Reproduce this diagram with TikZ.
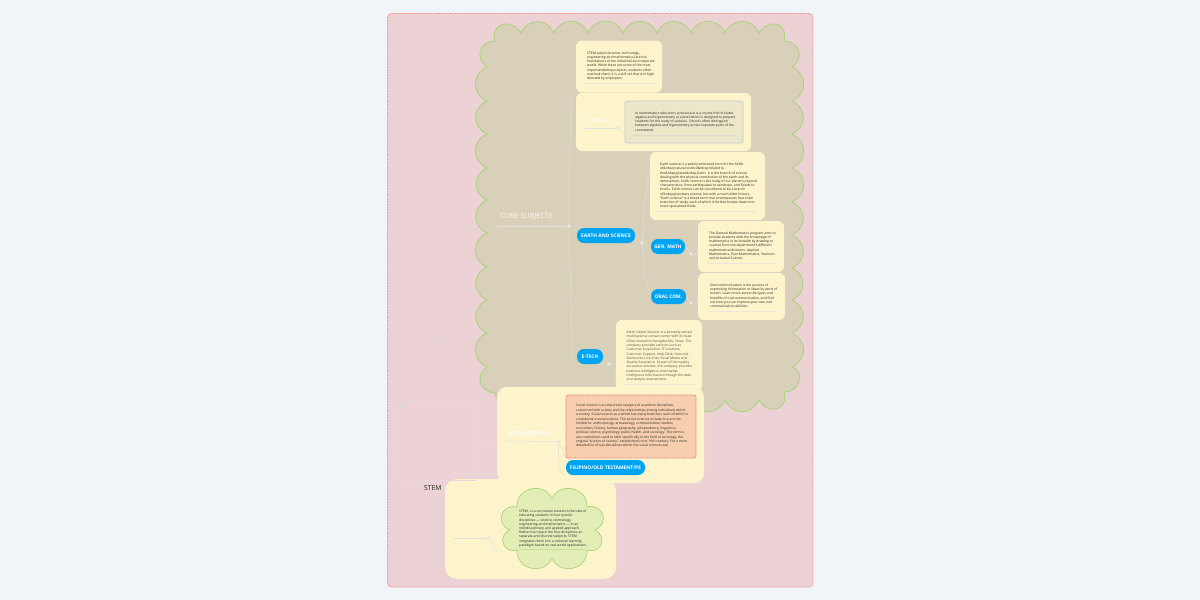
\documentclass[tikz,border=0pt]{standalone}
\usepackage{fontspec}
\setmainfont{Open Sans}
\usetikzlibrary{positioning}
\definecolor{pagebg}{HTML}{F0F5F9}
\definecolor{sheetfill}{HTML}{ECD2D4}
\definecolor{sheetline}{HTML}{F59A94}
\definecolor{cloudfill}{HTML}{D8D0B8}
\definecolor{cloudline}{HTML}{A8D47A}
\definecolor{yellowfill}{HTML}{FDF4CC}
\definecolor{greyfill}{HTML}{ECE7C9}
\definecolor{greyline}{HTML}{C2C8D0}
\definecolor{peachfill}{HTML}{F8CFAE}
\definecolor{peachline}{HTML}{E57F76}
\definecolor{greenfill}{HTML}{E2EDB8}
\definecolor{pillblue}{HTML}{00A5F2}
\definecolor{linkgrey}{HTML}{E0E1DB}
\definecolor{inktext}{HTML}{26261F}
\tikzstyle{yellowbox}=[fill=yellowfill,rounded corners=6pt,inner sep=0pt]
\tikzstyle{pill}=[fill=pillblue,rounded corners=7pt,inner sep=0pt,text=white,font=\fontsize{4.9}{5}\selectfont\bfseries]
\tikzstyle{bodytext}=[anchor=north west,align=left,inner sep=0pt,text=inktext,font=\fontsize{3.35}{4.2}\selectfont]
\tikzstyle{whitelabel}=[anchor=west,inner sep=0pt,text=white]
\tikzstyle{linkdot}=[circle,fill=linkgrey!50!white,draw=linkgrey,line width=.3pt,inner sep=0pt,minimum size=3.2pt]
\tikzstyle{link}=[draw=linkgrey,line width=.5pt]
\tikzstyle{rootlink}=[draw=linkgrey!45!sheetfill,line width=.5pt]
\tikzstyle{sepline}=[draw=linkgrey!70!yellowfill,line width=.5pt]
\tikzstyle{scallop}=[bend left=65,looseness=1.3]
\tikzstyle{puff}=[bend left=80,looseness=1.4]
\tikzstyle{puffside}=[bend left=85,looseness=1.75]
\begin{document}
\begin{tikzpicture}[x=1pt,y=-1pt]
	\useasboundingbox (0,0) rectangle (1200,600);
	\fill[pagebg] (0,0) rectangle (1200,600);
	\fill[sheetfill,rounded corners=4pt] (387.5,13.5) rectangle (813,587);
	\draw[sheetline,dash pattern=on 2pt off .7pt,rounded corners=4pt,line width=.8pt] (387.5,13.5) rectangle (813,587);

	\draw[cloudline,fill=cloudfill,line width=.8pt] (487,67) .. controls (474,58) and (480,41) .. (495,41) .. controls (490,22) and (512,18) .. (521,33)
		\foreach \cx in {554,588,623,657,691,725,759} { to[scallop] (\cx,33) }
		.. controls (768,18) and (789,22) .. (784,41) .. controls (798,41) and (806,58) .. (792,67)
		\foreach \cy in {101,134,168,202,235,268,300,333,367} { to[scallop] (792,\cy) }
		.. controls (806,372) and (800,392) .. (784,392) .. controls (789,410) and (768,416) .. (759,400)
		\foreach \cx in {725,691,657,623,588,554,521} { to[scallop] (\cx,400) }
		.. controls (512,416) and (500,412) .. (495,393) .. controls (480,392) and (474,376) .. (487,367)
		\foreach \cy in {333,300,267,233,200,168,134,101,67} { to[scallop] (487,\cy) } -- cycle;

	\coordinate (rootbottom) at (440,398);
	\coordinate (rootright) at (481,441);
	\coordinate (coreleft) at (497,226);
	\coordinate (socialleft) at (505,441);
	\coordinate (aboutleft) at (453,538);
	\coordinate (precalleft) at (584,128);
	\node[linkdot] (coredot) at (569,226) {};
	\node[linkdot] (earthdot) at (642,243) {};
	\node[linkdot] (mathdot) at (691,254) {};
	\node[linkdot] (oraldot) at (691,303) {};
	\node[linkdot] (etechdot) at (609,364) {};
	\node[linkdot] (stemdot) at (446,488) {};

	\draw[rootlink] (rootbottom) .. controls (447,340) and (452,250) .. (475,225);
	\draw[link] (coreleft) -- (coredot);
	\draw[link] (coredot) .. controls (569,180) and (571,120) .. (571,92);
	\draw[link] (coredot) .. controls (570,270) and (572,320) .. (572,356) -- (577,356);

	\node[yellowbox,minimum width=86pt,minimum height=52pt] (stembox) at (619,66.5) {};
	\node[yellowbox,minimum width=175pt,minimum height=58pt] (precalbox) at (663.5,122) {};
	\node[yellowbox,minimum width=115pt,minimum height=68pt] (earthbox) at (707.5,186) {};
	\node[yellowbox,minimum width=86pt,minimum height=51pt] (mathbox) at (741,246.5) {};
	\node[yellowbox,minimum width=87pt,minimum height=47pt] (oralbox) at (741.5,296.5) {};
	\node[yellowbox,minimum width=86pt,minimum height=72pt] (rtechbox) at (659,356) {};

	\node[pill,minimum width=58pt,minimum height=15pt] (earthpill) at (606,235.5) {EARTH AND SCIENCE};
	\node[pill,minimum width=34pt,minimum height=15pt] (mathpill) at (668,246.5) {GEN. MATH};
	\node[pill,minimum width=35pt,minimum height=15pt] (oralpill) at (668.5,296.5) {ORAL COM.};
	\node[pill,minimum width=26pt,minimum height=15pt] (etechpill) at (590,356.5) {E-TECH};

	\draw[link] (earthpill.east) -- (earthdot);
	\draw[link] (earthdot) .. controls (644,215) and (645,190) .. (650,172);
	\draw[link] (earthdot) .. controls (644,270) and (645,285) .. (651,297);
	\draw[link] (etechdot) .. controls (615,366) and (616,375) .. (616,385);

	\node[whitelabel,font=\fontsize{7.2}{8}\selectfont,text=white!85!cloudfill] (corelabel) at (500,216.5) {CORE SUBJECTS:};

	\node[bodytext] (stemtext) at (587,51.5) {STEM subject(science, technology,\\engineering and mathematics) are the\\foundations of the industrial and corporate\\world. While these are some of the most\\important\&nbsp;subjects, students often\\overlook them; it is a skill set that is in high\\demand by employers.};
	\draw[sepline] (584,83.5) -- (654,83.5);

	\node[whitelabel,font=\fontsize{5}{6}\selectfont\bfseries] (precallabel) at (588,121) {PRECAL};
	\node[draw=greyline,fill=greyfill,rounded corners=1.5pt,line width=.7pt,minimum width=118pt,minimum height=42pt,inner sep=0pt] (precalnote) at (684,122) {};
	\node[bodytext] (precaltext) at (635,111.5) {In mathematics education, precalculus is a course that includes\\algebra and trigonometry at a level which is designed to prepare\\students for the study of calculus. Schools often distinguish\\between algebra and trigonometry as two separate parts of the\\coursework.};
	\draw[sepline,greyline!40!greyfill] (633,135.5) -- (735,135.5);
	\node[linkdot] (precaldot) at (618,128) {};
	\draw[link] (precalleft) -- (precaldot);
	\draw[link] (precaldot) .. controls (621,132) and (622,134) .. (precalnote.west |- 0,135);

	\node[bodytext] (earthtext) at (660,163) {Earth science is a widely embraced term for the fields\\of\&nbsp;natural science\&nbsp;related to\\the\&nbsp;planet\&nbsp;Earth. It is the branch of science\\dealing with the physical constitution of the earth and its\\atmosphere. Earth science is the study of our planet's physical\\characteristics, from earthquakes to raindrops, and floods to\\fossils. Earth science can be considered to be a branch\\of\&nbsp;planetary science, but with a much older history.\\``Earth science'' is a broad term that encompasses four main\\branches of study, each of which is further broken down into\\more specialized fields.};
	\draw[sepline] (658,211.5) -- (756,211.5);

	\node[bodytext] (mathtext) at (709,231.6) {The General Mathematics program aims to\\provide students with the knowledge of\\mathematics in its breadth by drawing to\\courses from the department's different\\mathematical divisions: Applied\\Mathematics, Pure Mathematics, Statistics\\and Actuarial Science.};
	\draw[sepline] (706,263) -- (776,263);

	\node[bodytext,font=\fontsize{3.35}{4.33}\selectfont] (oraltext) at (710,283.3) {Oral communication is the process of\\expressing information or ideas by word of\\mouth. Learn more about the types and\\benefits of oral communication, and find\\out how you can improve your own oral\\communication abilities.};
	\draw[sepline] (707,311.5) -- (777,311.5);

	\node[bodytext,text=inktext!80!yellowfill,font=\fontsize{3.35}{4.33}\selectfont] (rtechtext) at (626.5,330.6) {Rtech Global Services is a privately owned\\multinational contact center with its head\\office located in Nacogdoches, Texas. The\\company provides services such as\\Customer Acquisition, IT solutions,\\Customer Support, Help Desk, Inbound,\\Outbound, Live Chat, Social Media and\\Quality Assurance. As part of the quality\\assurance services, the company provides\\business intelligence and market\\intelligence information through the data\\and analytic assessments.};
	\draw[sepline] (624,384) -- (694,384);

	\draw[link] (mathpill.east) -- (mathdot);
	\draw[link] (oralpill.east) -- (oraldot);
	\draw[link] (mathdot) .. controls (695,255) and (698,257) .. (mathbox.west);
	\draw[link] (oraldot) .. controls (695,304) and (698,304) .. (oralbox.west);

	\node[yellowbox,minimum width=207pt,minimum height=96pt,rounded corners=10pt] (socialbox) at (600.5,435) {};
	\node[draw=peachline,fill=peachfill,dash pattern=on 1.2pt off .6pt,rounded corners=2pt,line width=.7pt,minimum width=130pt,minimum height=63pt,inner sep=0pt] (socialnote) at (631,426.5) {};
	\node[bodytext,font=\fontsize{3.35}{4.47}\selectfont] (socialtext) at (576,404) {Social science is an important category of academic disciplines,\\concerned with society and the relationships among individuals within\\a society. Social science as a whole has many branches, each of which is\\considered a social science. The social sciences include, but are not\\limited to: anthropology, archaeology, communication studies,\\economics, history, human geography, jurisprudence, linguistics,\\political science, psychology, public health, and sociology. The term is\\also sometimes used to refer specifically to the field of sociology, the\\original ``science of society'', established in the 19th century. For a more\\detailed list of sub-disciplines within the social sciences see};
	\node[whitelabel,font=\fontsize{5.4}{6}\selectfont\bfseries] (sociallabel) at (507.5,433.5) {SOCIAL SCIENCE};
	\node[linkdot] (socialdot) at (558,441.5) {};
	\draw[link] (socialleft) -- (socialdot);
	\draw[link] (socialdot) .. controls (561,450) and (563,447) .. (socialnote.south west);
	\node[pill,minimum width=79pt,minimum height=15pt] (filipinopill) at (605.5,467.5) {FILIPINO/OLD TESTAMENT/PE};
	\draw[link] (socialdot) .. controls (559,465) and (560,475) .. (filipinopill.south west);

	\node[yellowbox,minimum width=171pt,minimum height=100pt,rounded corners=12pt] (aboutbox) at (530.5,529) {};
	\node[linkdot] (aboutdot) at (489,538) {};
	\draw[link] (aboutleft) -- (aboutdot);
	\draw[link] (aboutdot) .. controls (492,540) and (493,550) .. (497,551);
	\draw[cloudline,fill=greenfill,line width=.7pt] (517,507) to[puff] (552,499) to[puff] (587,507) to[puffside] (595,530) to[puffside] (587,550) to[puff] (552,558) to[puff] (517,550) to[puffside] (510,530) to[puffside] (517,507) -- cycle;
	\node[bodytext] (stemnote) at (519,510) {STEM - is a curriculum based on the idea of\\educating students in four specific\\disciplines --- science, technology,\\engineering and mathematics --- in an\\interdisciplinary and applied approach.\\Rather than teach the four disciplines as\\separate and discrete subjects, STEM\\integrates them into a cohesive learning\\paradigm based on real-world applications.};
	\draw[sepline,cloudline!50!greenfill] (519,549) -- (585,549);

	\node[draw=linkgrey!30!sheetfill,line width=.3pt,minimum width=77pt,minimum height=77pt,inner sep=0pt] (rootimage) at (437.5,441.5) {};
	\draw[rootlink] (rootimage.east |- rootright) -- (socialbox.west |- rootright);
	\fill[white!70!gray] (400,403.5) rectangle (403.5,407);
	\node[anchor=west,inner sep=0pt,text=inktext,font=\fontsize{6.8}{8}\selectfont] (stemlabel) at (424,488.5) {STEM};
\end{tikzpicture}
\end{document}
